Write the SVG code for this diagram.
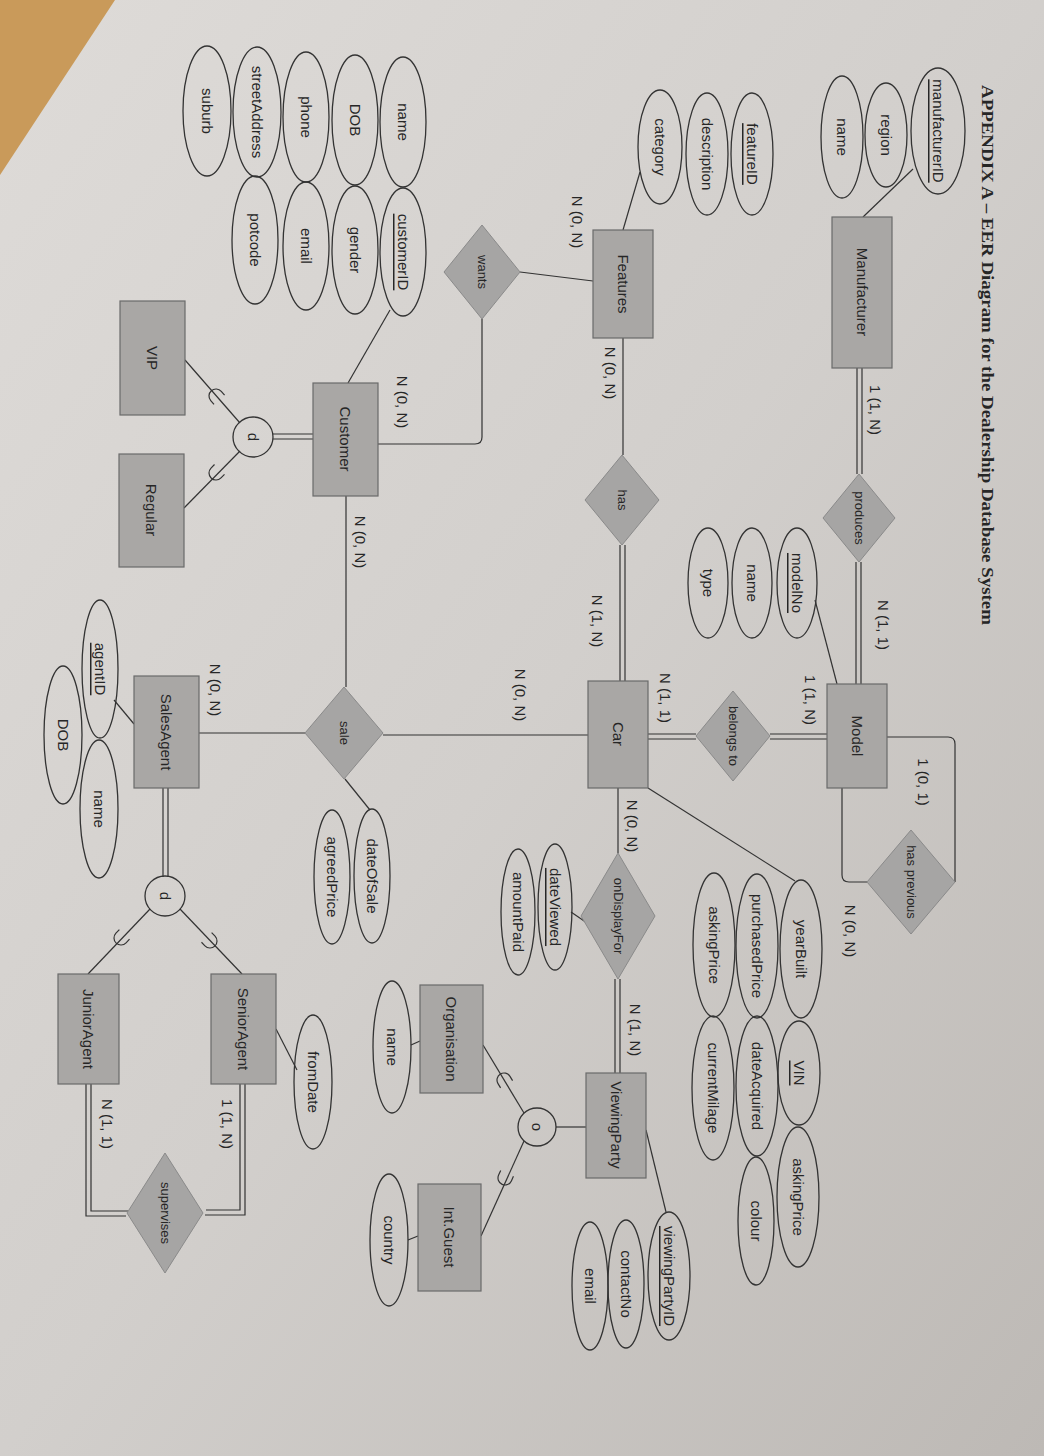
<svg xmlns="http://www.w3.org/2000/svg" width="1044" height="1456" viewBox="0 0 1044 1456">
<defs>
<linearGradient id="paper" x1="0" y1="0" x2="1" y2="1">
<stop offset="0" stop-color="#dedbd8"/>
<stop offset="0.5" stop-color="#d2cfcc"/>
<stop offset="1" stop-color="#bdb9b5"/>
</linearGradient>
<style>
.ent rect{fill:#a9a7a5;stroke:#6a6a6a;stroke-width:1.2}
.rel polygon{fill:#a6a5a4;stroke:#8a8a8a;stroke-width:1}
.att ellipse{fill:none;stroke:#333;stroke-width:1.3}
.circ circle{fill:none;stroke:#333;stroke-width:1.3}
text{font-family:"Liberation Sans",Arial,sans-serif;font-size:15px;fill:#262626;text-anchor:middle;dominant-baseline:central}
.u{text-decoration:underline}
.sm{font-size:13px}
#conn path,#conn line{fill:none;stroke:#333;stroke-width:1.2}
.title{font-family:"Liberation Serif","Times New Roman",serif;font-weight:bold;font-size:17px}
</style>
</defs>
<rect width="1044" height="1456" fill="url(#paper)"/>
<polygon points="0,0 115,0 0,175" fill="#c99a5a"/>
<text class="title" transform="translate(987,355) rotate(90)" textLength="540" lengthAdjust="spacingAndGlyphs">APPENDIX A – EER Diagram for the Dealership Database System</text>

<g id="conn">
<line x1="913" y1="169" x2="863" y2="217"/>
<line x1="857" y1="368" x2="857" y2="474"/><line x1="862" y1="368" x2="862" y2="474"/>
<line x1="856" y1="562" x2="856" y2="684"/><line x1="861" y1="562" x2="861" y2="684"/>
<line x1="815" y1="600" x2="837" y2="684"/>
<line x1="770" y1="734" x2="827" y2="734"/><line x1="770" y1="739" x2="827" y2="739"/>
<line x1="648" y1="734" x2="696" y2="734"/><line x1="648" y1="739" x2="696" y2="739"/>
<path d="M887,737 H948 Q955,737 955,744 V882"/>
<path d="M867,882 H849 Q842,882 842,875 V788"/>
<line x1="640" y1="172" x2="623" y2="230"/>
<line x1="623" y1="338" x2="623" y2="455"/>
<line x1="620" y1="545" x2="620" y2="681"/><line x1="625" y1="545" x2="625" y2="681"/>
<line x1="520" y1="272" x2="593" y2="281"/>
<path d="M482,319 V437 Q482,444 475,444 H378"/>
<line x1="390" y1="310" x2="348" y2="383"/>
<line x1="273" y1="434" x2="313" y2="434"/><line x1="273" y1="439" x2="313" y2="439"/>
<line x1="240" y1="423" x2="185" y2="360"/>
<line x1="240" y1="451" x2="184" y2="508"/>
<line x1="346" y1="496" x2="346" y2="687"/>
<line x1="383" y1="735" x2="588" y2="735"/>
<line x1="199" y1="733" x2="305" y2="733"/>
<line x1="345" y1="779" x2="370" y2="810"/>
<line x1="134" y1="724" x2="114" y2="700"/>
<line x1="163" y1="788" x2="163" y2="877"/><line x1="168" y1="788" x2="168" y2="877"/>
<line x1="180" y1="909" x2="242" y2="974"/>
<line x1="150" y1="909" x2="88" y2="974"/>
<path d="M240,1084 V1210 H206"/><path d="M245,1084 V1215 H205"/>
<path d="M86,1084 V1216 H126"/><path d="M91,1084 V1211 H128"/>
<line x1="276" y1="1029" x2="297" y2="1070"/>
<line x1="648" y1="788" x2="795" y2="881"/>
<line x1="618" y1="788" x2="618" y2="853"/>
<line x1="615" y1="979" x2="615" y2="1073"/><line x1="620" y1="979" x2="620" y2="1073"/>
<line x1="590" y1="925" x2="571" y2="912"/>
<line x1="646" y1="1130" x2="666" y2="1212"/>
<line x1="586" y1="1127" x2="556" y2="1127"/>
<line x1="524" y1="1113" x2="483" y2="1045"/>
<line x1="524" y1="1141" x2="481" y2="1236"/>
<line x1="420" y1="1041" x2="411" y2="1045"/>
<line x1="418" y1="1236" x2="408" y2="1240"/>
<path d="M-5,-7 L0,-7 A7,7 0 0 1 0,7 L-5,7" transform="translate(216,396) rotate(-131.1)"/>
<path d="M-5,-7 L0,-7 A7,7 0 0 1 0,7 L-5,7" transform="translate(216,473) rotate(134.5)"/>
<path d="M-5,-7 L0,-7 A7,7 0 0 1 0,7 L-5,7" transform="translate(210,941) rotate(46.3)"/>
<path d="M-5,-7 L0,-7 A7,7 0 0 1 0,7 L-5,7" transform="translate(121,938) rotate(133.6)"/>
<path d="M-5,-7 L0,-7 A7,7 0 0 1 0,7 L-5,7" transform="translate(504,1080) rotate(-121.1)"/>
<path d="M-5,-7 L0,-7 A7,7 0 0 1 0,7 L-5,7" transform="translate(505,1178) rotate(114.4)"/>
</g>

<g id="labels">
<text transform="translate(875,410) rotate(90)">1 (1, N)</text>
<text transform="translate(883,625) rotate(90)">N (1, 1)</text>
<text transform="translate(810,700) rotate(90)">1 (1, N)</text>
<text transform="translate(665,698) rotate(90)">N (1, 1)</text>
<text transform="translate(923,782) rotate(90)">1 (0, 1)</text>
<text transform="translate(850,931) rotate(90)">N (0, N)</text>
<text transform="translate(577,222) rotate(90)">N (0, N)</text>
<text transform="translate(610,373) rotate(90)">N (0, N)</text>
<text transform="translate(597,621) rotate(90)">N (1, N)</text>
<text transform="translate(520,695) rotate(90)">N (0, N)</text>
<text transform="translate(632,826) rotate(90)">N (0, N)</text>
<text transform="translate(635,1030) rotate(90)">N (1, N)</text>
<text transform="translate(402,402) rotate(90)">N (0, N)</text>
<text transform="translate(360,542) rotate(90)">N (0, N)</text>
<text transform="translate(215,690) rotate(90)">N (0, N)</text>
<text transform="translate(227,1124) rotate(90)">1 (1, N)</text>
<text transform="translate(107,1124) rotate(90)">N (1, 1)</text>
</g>

<g id="Manufacturer" class="ent"><rect x="832" y="217" width="60" height="151"/><text transform="translate(862,292) rotate(90)">Manufacturer</text></g>
<g id="Model" class="ent"><rect x="827" y="684" width="60" height="104"/><text transform="translate(857,736) rotate(90)">Model</text></g>
<g id="Features" class="ent"><rect x="593" y="230" width="60" height="108"/><text transform="translate(623,284) rotate(90)">Features</text></g>
<g id="Car" class="ent"><rect x="588" y="681" width="60" height="107"/><text transform="translate(618,734) rotate(90)">Car</text></g>
<g id="Customer" class="ent"><rect x="313" y="383" width="65" height="113"/><text transform="translate(345,439) rotate(90)">Customer</text></g>
<g id="VIP" class="ent"><rect x="120" y="301" width="65" height="114"/><text transform="translate(152,358) rotate(90)">VIP</text></g>
<g id="Regular" class="ent"><rect x="119" y="454" width="65" height="113"/><text transform="translate(151,510) rotate(90)">Regular</text></g>
<g id="SalesAgent" class="ent"><rect x="134" y="676" width="65" height="112"/><text transform="translate(166,732) rotate(90)">SalesAgent</text></g>
<g id="SeniorAgent" class="ent"><rect x="211" y="974" width="65" height="110"/><text transform="translate(243,1029) rotate(90)">SeniorAgent</text></g>
<g id="JuniorAgent" class="ent"><rect x="58" y="974" width="61" height="110"/><text transform="translate(88,1029) rotate(90)">JuniorAgent</text></g>
<g id="ViewingParty" class="ent"><rect x="586" y="1073" width="60" height="105"/><text transform="translate(616,1125) rotate(90)">ViewingParty</text></g>
<g id="Organisation" class="ent"><rect x="420" y="985" width="63" height="108"/><text transform="translate(451,1039) rotate(90)">Organisation</text></g>
<g id="IntGuest" class="ent"><rect x="418" y="1184" width="63" height="107"/><text transform="translate(449,1237) rotate(90)">Int.Guest</text></g>

<g id="produces" class="rel"><polygon points="859,474 895,518 859,562 823,518"/><text transform="translate(859,518) rotate(90)" class="sm">produces</text></g>
<g id="has" class="rel"><polygon points="622,455 659,500 622,545 585,500"/><text transform="translate(622,500) rotate(90)" class="sm">has</text></g>
<g id="belongsto" class="rel"><polygon points="733,691 770,736 733,781 696,736"/><text transform="translate(733,736) rotate(90)" class="sm">belongs to</text></g>
<g id="wants" class="rel"><polygon points="482,225 520,272 482,319 444,272"/><text transform="translate(482,272) rotate(90)" class="sm">wants</text></g>
<g id="sale" class="rel"><polygon points="344,687 383,733 344,779 305,733"/><text transform="translate(344,733) rotate(90)" class="sm">sale</text></g>
<g id="onDisplayFor" class="rel"><polygon points="618,853 655,916 618,979 581,916"/><text transform="translate(618,916) rotate(90)" class="sm">onDisplayFor</text></g>
<g id="hasprevious" class="rel"><polygon points="911,830 955,882 911,934 867,882"/><text transform="translate(911,882) rotate(90)" class="sm">has previous</text></g>
<g id="supervises" class="rel"><polygon points="165,1153 203,1213 165,1273 127,1213"/><text transform="translate(165,1213) rotate(90)" class="sm">supervises</text></g>

<g id="d1" class="circ"><circle cx="253" cy="437" r="20"/><text transform="translate(253,437) rotate(90)">d</text></g>
<g id="d2" class="circ"><circle cx="165" cy="896" r="20"/><text transform="translate(165,896) rotate(90)">d</text></g>
<g id="o1" class="circ"><circle cx="537" cy="1127" r="19"/><text transform="translate(537,1127) rotate(90)">o</text></g>

<g id="a_manufacturerID" class="att"><ellipse cx="938" cy="131" rx="27" ry="63"/><text class="u" transform="translate(938,131) rotate(90)">manufacturerID</text></g>
<g id="a_region" class="att"><ellipse cx="886" cy="135" rx="21" ry="52"/><text transform="translate(886,135) rotate(90)">region</text></g>
<g id="a_mname" class="att"><ellipse cx="842" cy="137" rx="21" ry="61"/><text transform="translate(842,137) rotate(90)">name</text></g>
<g id="a_featureID" class="att"><ellipse cx="752" cy="154" rx="21" ry="61"/><text class="u" transform="translate(752,154) rotate(90)">featureID</text></g>
<g id="a_description" class="att"><ellipse cx="707" cy="154" rx="21" ry="61"/><text transform="translate(707,154) rotate(90)">description</text></g>
<g id="a_category" class="att"><ellipse cx="660" cy="147" rx="22" ry="57"/><text transform="translate(660,147) rotate(90)">category</text></g>
<g id="a_cname" class="att"><ellipse cx="403" cy="122" rx="23" ry="65"/><text transform="translate(403,122) rotate(90)">name</text></g>
<g id="a_cDOB" class="att"><ellipse cx="355" cy="120" rx="23" ry="65"/><text transform="translate(355,120) rotate(90)">DOB</text></g>
<g id="a_phone" class="att"><ellipse cx="306" cy="117" rx="23" ry="65"/><text transform="translate(306,117) rotate(90)">phone</text></g>
<g id="a_street" class="att"><ellipse cx="257" cy="112" rx="24" ry="65"/><text transform="translate(257,112) rotate(90)">streetAddress</text></g>
<g id="a_suburb" class="att"><ellipse cx="207" cy="111" rx="24" ry="65"/><text transform="translate(207,111) rotate(90)">suburb</text></g>
<g id="a_customerID" class="att"><ellipse cx="403" cy="252" rx="23" ry="64"/><text class="u" transform="translate(403,252) rotate(90)">customerID</text></g>
<g id="a_gender" class="att"><ellipse cx="355" cy="250" rx="23" ry="64"/><text transform="translate(355,250) rotate(90)">gender</text></g>
<g id="a_cemail" class="att"><ellipse cx="306" cy="246" rx="23" ry="64"/><text transform="translate(306,246) rotate(90)">email</text></g>
<g id="a_potcode" class="att"><ellipse cx="255" cy="240" rx="23" ry="64"/><text transform="translate(255,240) rotate(90)">potcode</text></g>
<g id="a_modelNo" class="att"><ellipse cx="797" cy="583" rx="20" ry="55"/><text class="u" transform="translate(797,583) rotate(90)">modelNo</text></g>
<g id="a_modname" class="att"><ellipse cx="752" cy="583" rx="20" ry="55"/><text transform="translate(752,583) rotate(90)">name</text></g>
<g id="a_type" class="att"><ellipse cx="708" cy="583" rx="20" ry="55"/><text transform="translate(708,583) rotate(90)">type</text></g>
<g id="a_yearBuilt" class="att"><ellipse cx="801" cy="949" rx="21" ry="69"/><text transform="translate(801,949) rotate(90)">yearBuilt</text></g>
<g id="a_purchasedPrice" class="att"><ellipse cx="757" cy="946" rx="21" ry="72"/><text transform="translate(757,946) rotate(90)">purchasedPrice</text></g>
<g id="a_askingPrice1" class="att"><ellipse cx="714" cy="945" rx="21" ry="72"/><text transform="translate(714,945) rotate(90)">askingPrice</text></g>
<g id="a_VIN" class="att"><ellipse cx="799" cy="1073" rx="21" ry="52"/><text class="u" transform="translate(799,1073) rotate(90)">VIN</text></g>
<g id="a_dateAcquired" class="att"><ellipse cx="757" cy="1086" rx="21" ry="70"/><text transform="translate(757,1086) rotate(90)">dateAcquired</text></g>
<g id="a_currentMilage" class="att"><ellipse cx="713" cy="1088" rx="21" ry="72"/><text transform="translate(713,1088) rotate(90)">currentMilage</text></g>
<g id="a_askingPrice2" class="att"><ellipse cx="798" cy="1197" rx="21" ry="70"/><text transform="translate(798,1197) rotate(90)">askingPrice</text></g>
<g id="a_colour" class="att"><ellipse cx="756" cy="1221" rx="18" ry="64"/><text transform="translate(756,1221) rotate(90)">colour</text></g>
<g id="a_viewingPartyID" class="att"><ellipse cx="669" cy="1276" rx="21" ry="64"/><text class="u" transform="translate(669,1276) rotate(90)">viewingPartyID</text></g>
<g id="a_contactNo" class="att"><ellipse cx="626" cy="1284" rx="18" ry="64"/><text transform="translate(626,1284) rotate(90)">contactNo</text></g>
<g id="a_vemail" class="att"><ellipse cx="590" cy="1286" rx="18" ry="64"/><text transform="translate(590,1286) rotate(90)">email</text></g>
<g id="a_dateViewed" class="att"><ellipse cx="555" cy="907" rx="17" ry="63"/><text class="u" transform="translate(555,907) rotate(90)">dateViewed</text></g>
<g id="a_amountPaid" class="att"><ellipse cx="518" cy="912" rx="17" ry="63"/><text transform="translate(518,912) rotate(90)">amountPaid</text></g>
<g id="a_dateOfSale" class="att"><ellipse cx="372" cy="876" rx="18" ry="67"/><text transform="translate(372,876) rotate(90)">dateOfSale</text></g>
<g id="a_agreedPrice" class="att"><ellipse cx="332" cy="877" rx="18" ry="67"/><text transform="translate(332,877) rotate(90)">agreedPrice</text></g>
<g id="a_agentID" class="att"><ellipse cx="100" cy="669" rx="18" ry="69"/><text class="u" transform="translate(100,669) rotate(90)">agentID</text></g>
<g id="a_sname" class="att"><ellipse cx="99" cy="809" rx="19" ry="69"/><text transform="translate(99,809) rotate(90)">name</text></g>
<g id="a_sDOB" class="att"><ellipse cx="63" cy="735" rx="19" ry="69"/><text transform="translate(63,735) rotate(90)">DOB</text></g>
<g id="a_fromDate" class="att"><ellipse cx="313" cy="1082" rx="19" ry="67"/><text transform="translate(313,1082) rotate(90)">fromDate</text></g>
<g id="a_oname" class="att"><ellipse cx="392" cy="1047" rx="19" ry="66"/><text transform="translate(392,1047) rotate(90)">name</text></g>
<g id="a_country" class="att"><ellipse cx="389" cy="1240" rx="19" ry="66"/><text transform="translate(389,1240) rotate(90)">country</text></g>
</svg>
